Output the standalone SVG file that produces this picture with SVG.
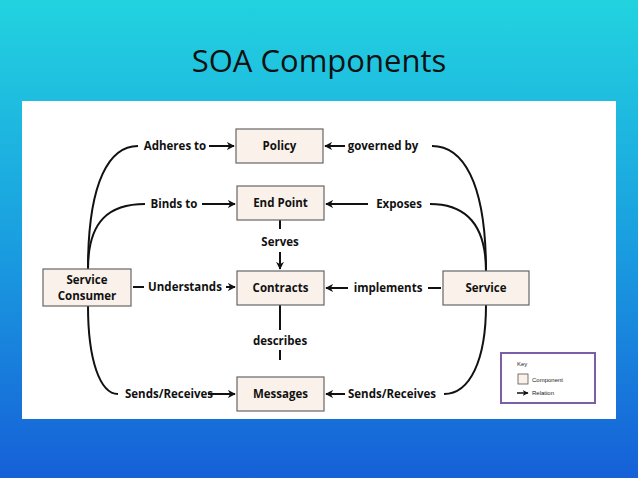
<svg xmlns="http://www.w3.org/2000/svg" width="638" height="478" viewBox="0 0 638 478">
<defs>
<linearGradient id="bg" x1="0" y1="0" x2="0" y2="1"><stop offset="0" stop-color="#22d3df"/><stop offset="0.5" stop-color="#1a9fe0"/><stop offset="1" stop-color="#1660d8"/></linearGradient>
<marker id="ah" viewBox="0 0 10 10" refX="9" refY="5" markerWidth="4" markerHeight="4" orient="auto"><path d="M0,0 L10,5 L0,10 L3,5 Z" fill="#111"/></marker>
</defs>
<style>
.b{fill:#faf1ea;stroke:#666;stroke-width:1.2}
.t{font-family:"Open Sans","Liberation Sans",sans-serif;font-weight:bold;font-size:11.5px;fill:#111;text-anchor:middle}
.l{fill:none;stroke:#111;stroke-width:2}
</style>
<rect width="638" height="478" fill="url(#bg)"/>
<text x="319" y="72" font-family="Open Sans, Liberation Sans, sans-serif" font-size="31" fill="#111" text-anchor="middle">SOA Components</text>
<rect x="22" y="101" width="594" height="318" fill="#fff"/>
<g id="connectors">
<path class="l" d="M88,269 C88,180 110,146 138,146"/>
<path class="l" d="M88,269 C88,220 110,204 145,204"/>
<path class="l" d="M88,306 C88,360 100,394 118,394"/>
<path class="l" d="M486,271 C486,180 462,146 432,146"/>
<path class="l" d="M486,271 C486,220 462,204 430,204"/>
<path class="l" d="M486,305 C486,360 470,394 444,394"/>
<path class="l" marker-end="url(#ah)" d="M209,146 H234"/>
<path class="l" marker-end="url(#ah)" d="M202,204 H235"/>
<path class="l" d="M133,287 H144"/>
<path class="l" marker-end="url(#ah)" d="M226,287 H235"/>
<path class="l" marker-end="url(#ah)" d="M208,394 H235"/>
<path class="l" marker-end="url(#ah)" d="M345,146 H325"/>
<path class="l" marker-end="url(#ah)" d="M368,204 H326"/>
<path class="l" marker-end="url(#ah)" d="M348,288 H326"/>
<path class="l" d="M428,288 H441"/>
<path class="l" marker-end="url(#ah)" d="M345,394 H326"/>
<path class="l" d="M280,220 V229"/>
<path class="l" marker-end="url(#ah)" d="M280,252 V269"/>
<path class="l" d="M280,305 V330"/>
<path class="l" d="M280,350 V360"/>
</g>
<g class="t">
<text x="175" y="150">Adheres to</text>
<text x="174" y="208">Binds to</text>
<text x="185" y="291">Understands</text>
<text x="169" y="398">Sends/Receives</text>
<text x="383" y="150">governed by</text>
<text x="399" y="208">Exposes</text>
<text x="388" y="292">implements</text>
<text x="392" y="398">Sends/Receives</text>
<text x="280" y="246">Serves</text>
<text x="280" y="345">describes</text>
</g>
<g id="policy"><rect class="b" x="236" y="129" width="87" height="34"/><text class="t" x="279.5" y="150">Policy</text></g>
<g id="endpoint"><rect class="b" x="237" y="186" width="87" height="34"/><text class="t" x="280.5" y="207">End Point</text></g>
<g id="contracts"><rect class="b" x="237" y="271" width="87" height="34"/><text class="t" x="280.5" y="292">Contracts</text></g>
<g id="messages"><rect class="b" x="237" y="377" width="87" height="34"/><text class="t" x="280.5" y="398">Messages</text></g>
<g id="consumer"><rect class="b" x="43" y="269" width="88" height="37"/><text class="t" x="87" y="284">Service</text><text class="t" x="87" y="300">Consumer</text></g>
<g id="service"><rect class="b" x="443" y="271" width="86" height="34"/><text class="t" x="486" y="292">Service</text></g>
<g id="key">
<rect x="501" y="353" width="94" height="50" fill="#fff" stroke="#7a5ea8" stroke-width="2"/>
<text x="517" y="366" font-family="Liberation Sans, sans-serif" font-size="6" fill="#222">Key</text>
<rect x="518" y="374" width="10" height="10" fill="#faf1ea" stroke="#555" stroke-width="0.8"/>
<text x="532" y="382" font-family="Liberation Sans, sans-serif" font-size="6" fill="#222">Component</text>
<path d="M517,393 H528" stroke="#111" stroke-width="1.5" marker-end="url(#ah)"/>
<text x="532" y="395" font-family="Liberation Sans, sans-serif" font-size="6" fill="#222">Relation</text>
</g>
</svg>
